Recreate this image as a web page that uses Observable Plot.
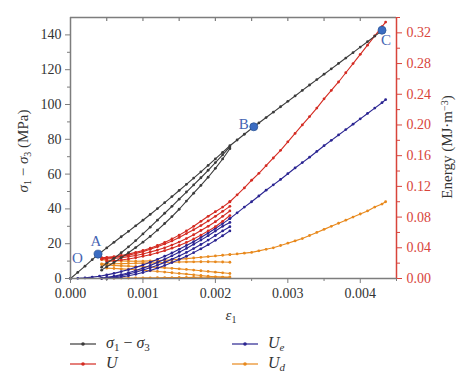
<!DOCTYPE html>
<html><head><meta charset="utf-8">
<script src="https://cdn.jsdelivr.net/npm/d3@7"></script>
<script src="https://cdn.jsdelivr.net/npm/@observablehq/plot@0.6"></script>
<style>
body{margin:0;background:#fff;font-family:"Liberation Serif",serif;}
#wrap{position:relative;width:474px;height:389px;overflow:hidden;}
.li{position:absolute;height:18px;}
.lt{position:absolute;font-size:16px;color:#333;font-family:"Liberation Serif",serif;line-height:18px;}
.lt sub{font-size:11px;font-style:italic;vertical-align:-3px;line-height:0;}
.lt sub.n{font-style:normal;}
</style></head><body><div id="wrap"></div>
<script>
// ---------- data ----------
const strainMain = [0,0.0001,0.0002,0.0003,0.0004,0.0005,0.0006,0.0007,0.0008,0.0009,0.0010,0.0011,0.0012,0.0013,0.0014,0.0015,0.0016,0.0017,0.0018,0.0019,0.0020,0.0021,0.0022,0.0023,0.0024,0.0025,0.0026,0.0027,0.0028,0.0029,0.0030,0.0031,0.0032,0.0033,0.0034,0.0035,0.0036,0.0037,0.0038,0.0039,0.0040,0.0041,0.0042,0.0043];
const stressMain = [0,3.5,7.1,10.8,14.4,17.6,20.8,24.0,27.1,30.3,33.5,36.8,40.2,43.6,47.1,50.6,54.1,57.7,61.3,65.0,68.7,72.5,76.3,79.6,82.9,86.2,89.4,92.5,95.6,98.7,101.8,104.9,108.1,111.2,114.3,117.4,120.5,123.6,126.7,129.8,133.0,136.1,139.3,142.5];
const strainLoop = [0.00043,0.0005,0.0006,0.0007,0.0008,0.0009,0.0010,0.0011,0.0012,0.0013,0.0014,0.0015,0.0016,0.0017,0.0018,0.0019,0.0020,0.0021,0.0022];
const stressLoop2 = [6.5,8.8,11.6,14.8,18.2,21.8,25.6,29.5,33.5,37.5,41.5,45.6,49.7,53.8,57.9,62.2,66.6,71.1,75.6];
const stressLoop3 = [4.8,6.8,9.2,12.0,14.8,17.8,20.9,24.2,27.8,31.6,35.6,39.8,44.5,49.0,53.5,58.2,63.3,68.7,74.6];

const strainEnergyMain = [0.0022,0.0023,0.0024,0.0025,0.0026,0.0027,0.0028,0.0029,0.0030,0.0031,0.0032,0.0033,0.0034,0.0035,0.0036,0.0037,0.0038,0.0039,0.0040,0.0041,0.0042,0.0043,0.00435];
const uMain  = [0.100,0.109,0.118,0.128,0.137,0.147,0.157,0.167,0.178,0.189,0.200,0.211,0.222,0.234,0.245,0.256,0.268,0.280,0.292,0.304,0.316,0.328,0.334];
const ueMain = [0.078,0.0855,0.093,0.100,0.1075,0.115,0.122,0.129,0.1365,0.144,0.151,0.158,0.1655,0.173,0.180,0.187,0.194,0.201,0.208,0.215,0.222,0.229,0.233];
const udMain = [0.0312,0.032,0.033,0.034,0.036,0.038,0.040,0.043,0.046,0.049,0.052,0.056,0.060,0.064,0.068,0.072,0.076,0.080,0.084,0.088,0.093,0.097,0.100];

const uLoop1 = [0.027,0.0275,0.0285,0.030,0.0318,0.034,0.0365,0.0395,0.043,0.047,0.0515,0.0565,0.062,0.068,0.0745,0.081,0.087,0.093,0.100];
const uLoop2 = [0.026,0.0265,0.0275,0.0288,0.0305,0.0325,0.035,0.038,0.0413,0.045,0.049,0.0535,0.0585,0.0635,0.069,0.075,0.081,0.0875,0.094];
const uLoop3 = [0.025,0.0255,0.026,0.027,0.0285,0.030,0.032,0.0345,0.037,0.040,0.0435,0.0475,0.052,0.057,0.0625,0.068,0.074,0.081,0.088];
const uLoop4 = [null,0.0225,0.023,0.024,0.0253,0.027,0.029,0.031,0.0335,0.0363,0.0395,0.043,0.047,0.0515,0.0565,0.062,0.0675,0.0745,0.082];

const ueLoop1 = [0,0.0002,0.0008,0.0018,0.003,0.0047,0.0067,0.009,0.0116,0.0145,0.0177,0.0212,0.025,0.029,0.0333,0.038,0.043,0.048,0.0535,0.0592,0.0652,0.0715,0.078];
const ueLoop2 = [0.0005,0.0015,0.003,0.005,0.0075,0.0103,0.0135,0.017,0.021,0.025,0.0295,0.0342,0.0392,0.0445,0.050,0.0558,0.0618,0.068,0.073];
const ueLoop3 = [0.0,0.0008,0.002,0.0037,0.0058,0.0082,0.011,0.014,0.0173,0.021,0.025,0.0293,0.034,0.039,0.0443,0.050,0.056,0.062,0.0675];
const ueLoop4 = [null,0.0,0.0008,0.002,0.0036,0.0055,0.0078,0.0105,0.0135,0.017,0.0207,0.0248,0.029,0.0337,0.0387,0.044,0.0497,0.0557,0.062];

const udLoop1 = [0.0245,0.0238,0.0232,0.0228,0.0226,0.0225,0.0226,0.0229,0.0233,0.0238,0.0244,0.0251,0.0259,0.0267,0.0276,0.0285,0.0294,0.0303,0.0312];
const udLoop2 = [0.019,0.019,0.0192,0.0194,0.0196,0.0198,0.020,0.0203,0.0206,0.0209,0.0212,0.0214,0.0216,0.0217,0.0218,0.0218,0.0217,0.0215,0.0212];
const udLoop3 = [0.018,0.0175,0.017,0.0165,0.0161,0.0157,0.0153,0.0149,0.0144,0.0139,0.0133,0.0126,0.0118,0.011,0.0101,0.0092,0.0083,0.0074,0.0065];
const udLoop4 = [null,0.0135,0.013,0.0125,0.012,0.0114,0.0107,0.010,0.0092,0.0084,0.0075,0.0066,0.0057,0.0048,0.0039,0.003,0.0022,0.0015,0.001];
const udLoop5 = [0.0002,0.0003,0.0004,0.0005,0.0006,0.0007,0.0008,0.0009,0.001,0.0011,0.0012,0.0013,0.0014,0.0015,0.0016,0.0017,0.0018,0.0019,0.002];

const pointNames = ["O","A","B","C"];
const pointStrain = [0,0.00038,0.00253,0.0043];
const pointStress = [0,14.0,87.2,142.7];

const xTicks = [0,0.001,0.002,0.003,0.004];
const xMinor = [0.0005,0.0015,0.0025,0.0035,0.0045];
const yTicks = [0,20,40,60,80,100,120,140];
const yMinor = [10,30,50,70,90,110,130];
const eTicks = [0,0.04,0.08,0.12,0.16,0.20,0.24,0.28,0.32];
const eMinor = [0.02,0.06,0.10,0.14,0.18,0.22,0.26,0.30,0.34];
const legendNames = ["σ1 − σ3","U","Ue","Ud"];

// ---------- chart ----------
const X_MAX = 0.0045, Y_MAX = 150, E_MAX = 0.34;
const k = Y_MAX / E_MAX; // energy -> stress-axis units (right axis)
const C = {s:"#3b3b3b", u:"#d42b22", ue:"#2b2592", ud:"#e8891d", pt:"#3b6cc2", axis:"#7d7d7d", red:"#d8443b", txt:"#333"};

function series(xs, ys, name, f = 1) {
  return xs.map((x, i) => ({x, y: ys[i] == null ? null : ys[i] * f, name})).filter(d => d.y != null);
}
const sData = [...series(strainMain, stressMain, "s1"), ...series(strainLoop, stressLoop2, "s2"), ...series(strainLoop, stressLoop3, "s3")];
const uData = [...series(strainEnergyMain, uMain, "u0", k), ...series(strainLoop, uLoop1, "u1", k), ...series(strainLoop, uLoop2, "u2", k), ...series(strainLoop, uLoop3, "u3", k), ...series(strainLoop, uLoop4, "u4", k)];
const ueData = [...series(strainEnergyMain, ueMain, "e0", k), ...series(strainMain.slice(0, ueLoop1.length), ueLoop1, "e1", k), ...series(strainLoop, ueLoop2, "e2", k), ...series(strainLoop, ueLoop3, "e3", k), ...series(strainLoop, ueLoop4, "e4", k)];
const udData = [...series(strainEnergyMain, udMain, "d0", k), ...series(strainLoop, udLoop1, "d1", k), ...series(strainLoop, udLoop2, "d2", k), ...series(strainLoop, udLoop3, "d3", k), ...series(strainLoop, udLoop4, "d4", k), ...series(strainLoop, udLoop5, "d5", k)];
const pts = pointNames.map((n, i) => ({n, x: pointStrain[i], y: pointStress[i]}));

function curve(data, color) {
  return [
    Plot.line(data, {x: "x", y: "y", z: "name", stroke: color, strokeWidth: 1.1}),
    Plot.dot(data, {x: "x", y: "y", r: 1.4, fill: color, stroke: "none"})
  ];
}
const labelOffsets = {O: [7, -20], A: [-2, -13], B: [-10, -3], C: [4, 10]};

const H = 325, MT = 17, MB = 47;
const chart = Plot.plot({
  width: 474, height: H,
  marginLeft: 70, marginRight: 78, marginTop: MT, marginBottom: MB,
  style: {fontFamily: "Liberation Serif, serif", fontSize: "14px", background: "#fff"},
  x: {domain: [0, X_MAX], label: null},
  y: {domain: [0, Y_MAX], label: null},
  marks: [
    ...curve(udData, C.ud),
    ...curve(ueData, C.ue),
    ...curve(uData, C.u),
    ...curve(sData, C.s),
    // frame
    Plot.ruleY([0, Y_MAX], {stroke: C.axis, strokeWidth: 1.5}),
    Plot.ruleX([0], {stroke: C.axis, strokeWidth: 1.5}),
    Plot.ruleX([X_MAX], {stroke: C.red, strokeWidth: 1.5}),
    // top inward ticks
    Plot.ruleX([...xTicks.slice(1), ...xMinor.slice(0, -1)], {stroke: C.axis, strokeWidth: 1.2, insetBottom: H - MT - MB - 4}),
    // bottom axis
    Plot.axisX({ticks: xTicks, tickFormat: d3.format(".3f"), tickSize: 5, tickPadding: 5, stroke: C.axis, fill: C.txt, label: null}),
    Plot.axisX({ticks: xMinor, tickFormat: () => "", tickSize: 3, stroke: C.axis, label: null}),
    // left axis
    Plot.axisY({ticks: yTicks, tickSize: 5, tickPadding: 4, stroke: C.axis, fill: C.txt, label: null}),
    Plot.axisY({ticks: yMinor, tickFormat: () => "", tickSize: 3, stroke: C.axis, label: null}),
    // right energy axis
    Plot.axisY({anchor: "right", ticks: eTicks.map(e => e * k), tickFormat: d => (d / k).toFixed(2), tickSize: 5, tickPadding: 5, stroke: C.red, fill: C.red, label: null}),
    Plot.axisY({anchor: "right", ticks: eMinor.map(e => e * k), tickFormat: () => "", tickSize: 3, stroke: C.red, label: null}),
    // key points
    Plot.dot(pts.filter(d => d.n !== "O"), {x: "x", y: "y", r: 4, fill: C.pt, stroke: "#2c5597", strokeWidth: 0.8}),
    ...pts.map(p => Plot.text([p], {x: "x", y: "y", text: "n", dx: labelOffsets[p.n][0], dy: labelOffsets[p.n][1], fill: "#4564b3", fontSize: 15}))
  ]
});

const wrap = document.getElementById("wrap");
wrap.appendChild(chart);

// axis titles with sub/superscripts
const svg = d3.select(chart);
function addLabel(x, y, rot, parts) {
  const t = svg.append("text").attr("transform", `translate(${x},${y}) rotate(${rot})`)
    .attr("text-anchor", "middle").attr("fill", C.txt).attr("font-size", 15)
    .attr("font-family", "Liberation Serif, serif");
  parts.forEach(([s, style]) => {
    const ts = t.append("tspan").text(s);
    if (style === "i") ts.attr("font-style", "italic");
    if (style === "sub") ts.attr("font-size", 10).attr("baseline-shift", "-25%");
    if (style === "subi") ts.attr("font-size", 10).attr("font-style", "italic").attr("baseline-shift", "-25%");
    if (style === "sup") ts.attr("font-size", 10).attr("baseline-shift", "45%");
  });
}
addLabel(28, 151, -90, [["σ","i"],["1","sub"],[" − ",""],["σ","i"],["3","sub"],[" (MPa)",""]]);
addLabel(452, 147, -90, [["Energy (MJ·m",""],["−3","sup"],[")",""]]);
addLabel(231, 320, 0, [["ε","i"],["1","sub"]]);

// legend
const legColors = [C.s, C.u, C.ue, C.ud];
const legHTML = [
  '<i>σ</i><sub class="n">1</sub> − <i>σ</i><sub class="n">3</sub>',
  '<i>U</i>',
  '<i>U</i><sub>e</sub>',
  '<i>U</i><sub>d</sub>'
];
const legPos = [[70, 344], [70, 364], [232, 344], [232, 364]];
legendNames.forEach((name, i) => {
  const [lx, ly] = legPos[i];
  const s = d3.select(wrap).append("svg").attr("class", "li").attr("width", 27).attr("height", 10)
    .style("left", lx + "px").style("top", (ly - 5) + "px");
  s.append("line").attr("x1", 0).attr("x2", 26).attr("y1", 5).attr("y2", 5).attr("stroke", legColors[i]).attr("stroke-width", 1.2);
  s.append("circle").attr("cx", 13).attr("cy", 5).attr("r", 1.8).attr("fill", legColors[i]);
  d3.select(wrap).append("div").attr("class", "lt").attr("title", name)
    .style("left", (lx + 36) + "px").style("top", (ly - 10) + "px").html(legHTML[i]);
});
</script></body></html>
